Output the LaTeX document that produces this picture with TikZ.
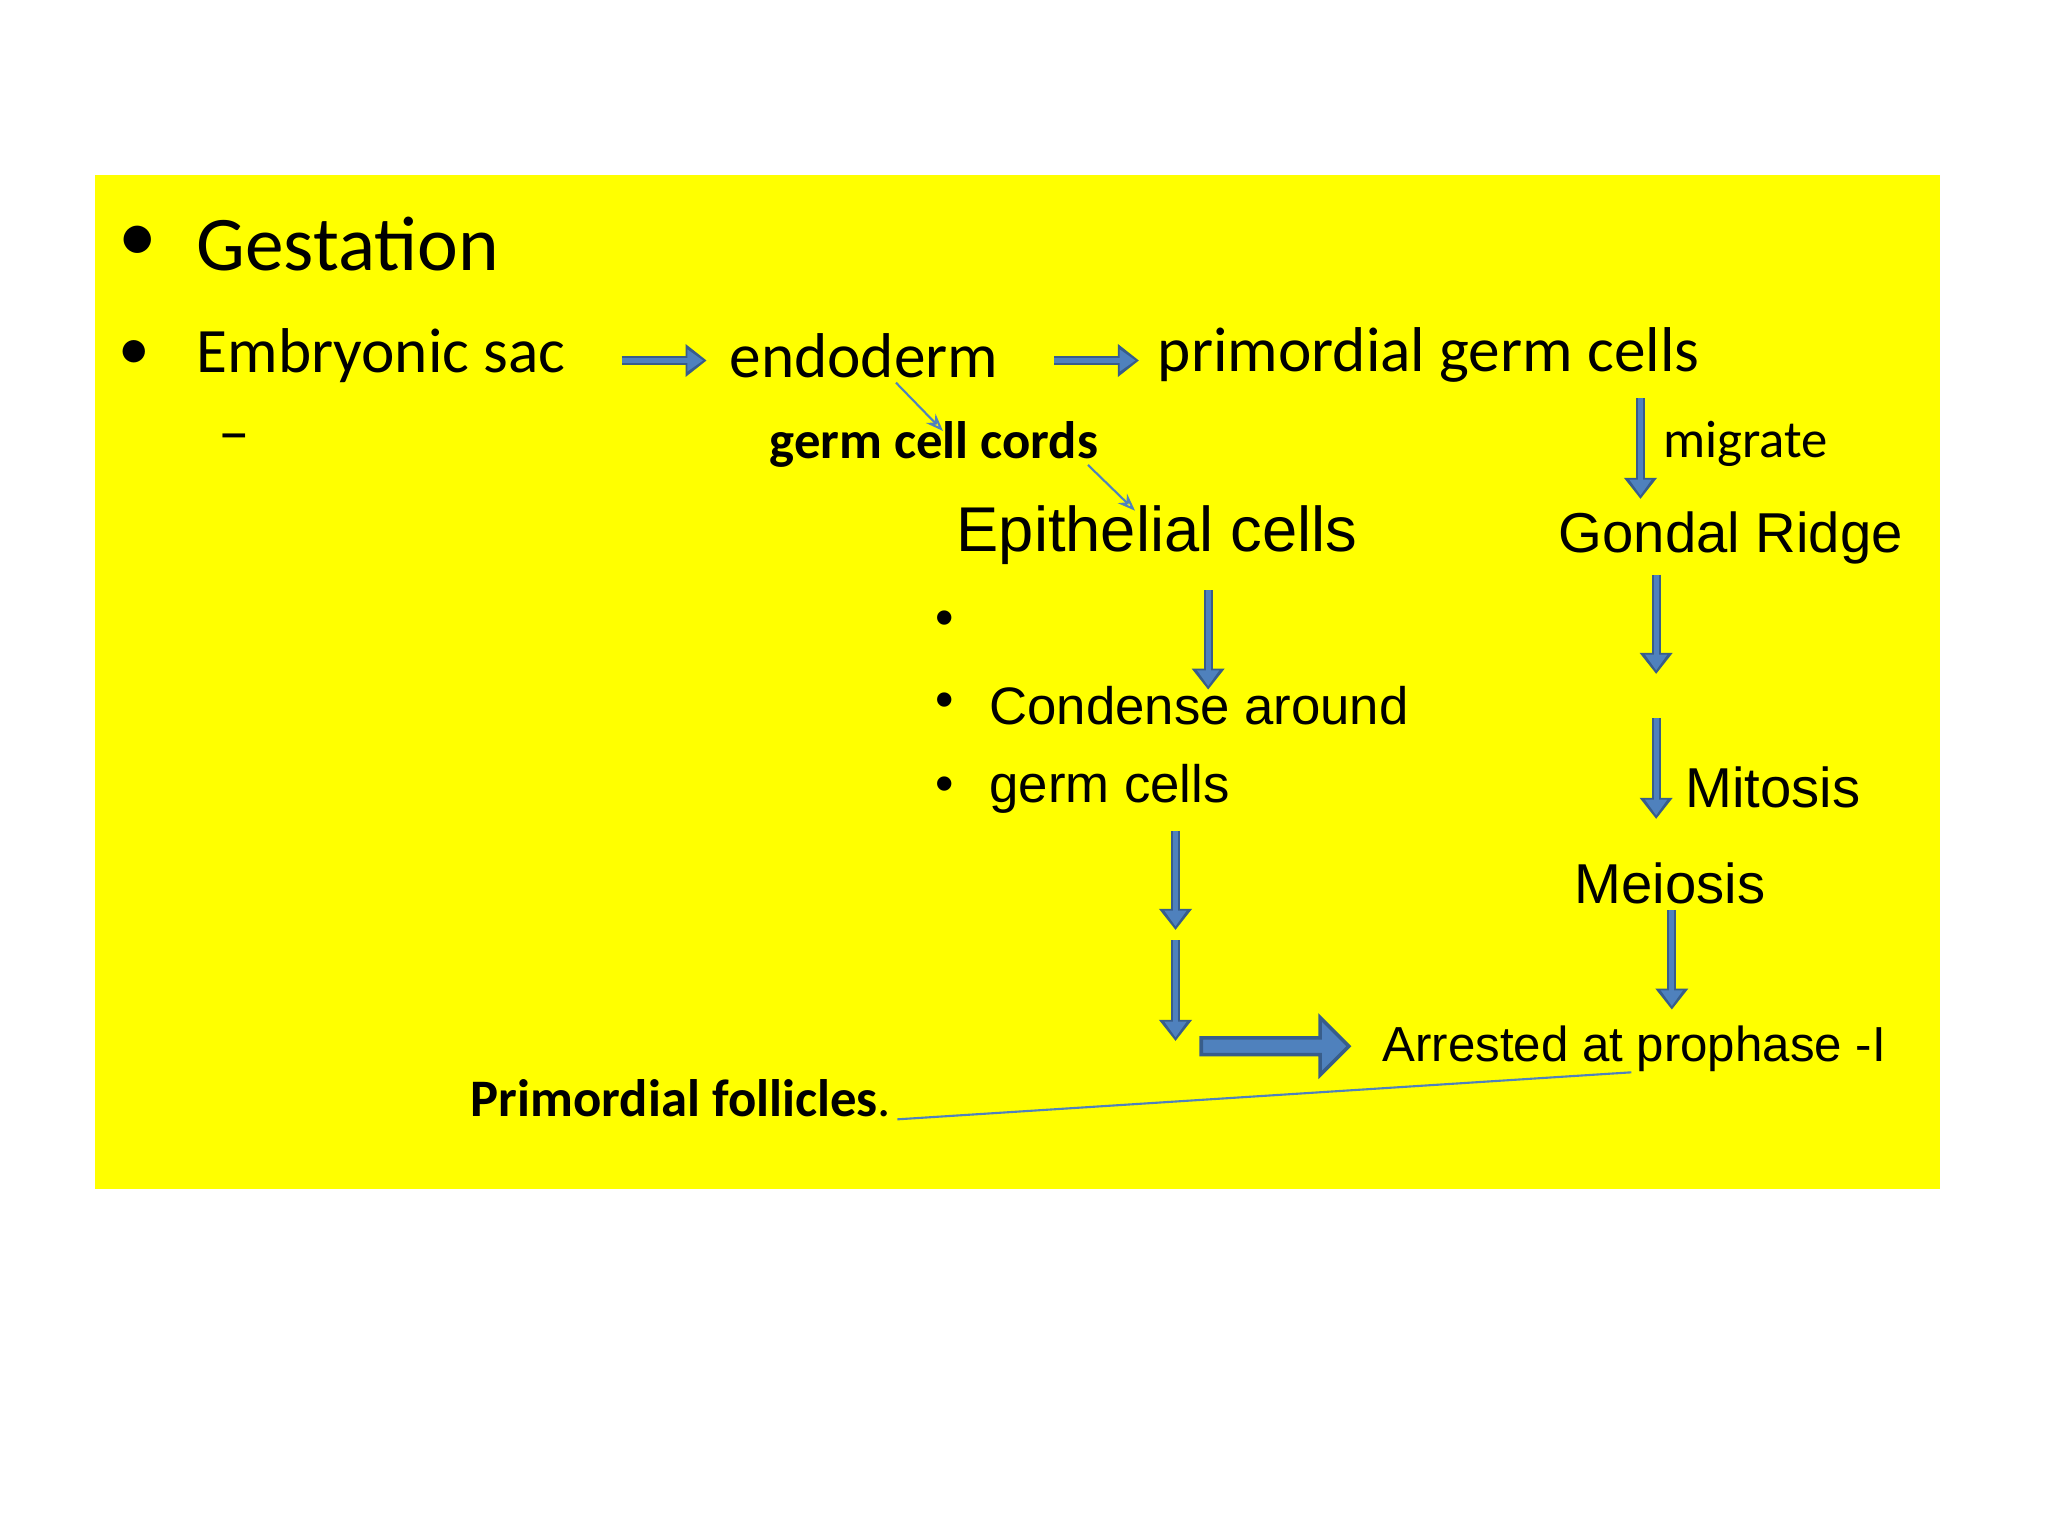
\documentclass[tikz,border=0pt]{standalone}
\usepackage{fontspec}
\setmainfont{Carlito}
\newfontfamily\arial{Liberation Sans}
\usetikzlibrary{arrows.meta,shapes.arrows}
\definecolor{ylw}{RGB}{255,255,0}
\definecolor{bfill}{RGB}{79,129,189}
\definecolor{bline}{RGB}{56,93,138}
\begin{document}
\begin{tikzpicture}[x=0.01306cm,y=-0.01306cm,
  cal/.style={anchor=west,inner sep=0pt,font=\fontsize{18}{20}\selectfont},
  ar/.style={anchor=west,inner sep=0pt,font=\arial\fontsize{15}{18}\selectfont},
  blk/.style={draw=bline,line width=2.6pt,-{Triangle[length=6pt,width=9pt]},shorten >=0pt},
  blkin/.style={draw=bfill,line width=1.4pt,-{Triangle[length=4.5pt,width=6pt]},shorten >=1pt},
  thin/.style={draw=bfill,line width=0.6pt,-{Stealth[length=5pt,open]}}]
\useasboundingbox (0,0) rectangle (1568,1176);
\fill[ylw] (73,134) rectangle (1485,910);
\node[cal,font=\fontsize{22}{24}\selectfont] (b1) at (90,187) {•};
\node[cal,font=\fontsize{22}{24}\selectfont] (gest) at (150,187) {Gestation};
\node[cal] (b2) at (90,272) {•};
\node[cal] (emb) at (150,272) {Embryonic sac};
\node[cal] (endo) at (558,272) {endoderm};
\node[cal] (pgc) at (886,272) {primordial germ cells};
\node[cal] (dash) at (167,340) {–};
\node[inner sep=0pt,font=\bfseries\fontsize{15}{18}\selectfont] (gcc) at (715,340) {germ cell cords};
\node[ar,font=\arial\fontsize{18}{20}\selectfont] (epi) at (732,410) {Epithelial cells};
\node[cal,font=\fontsize{15}{18}\selectfont] (mig) at (1273,340) {migrate};
\node[ar,font=\arial\fontsize{16}{18}\selectfont] (gr) at (1193,412) {Gondal Ridge};
\node[ar,font=\arial\fontsize{16}{18}\selectfont] (mit) at (1290,603) {Mitosis};
\node[ar,font=\arial\fontsize{16}{18}\selectfont] (mei) at (1205,676) {Meiosis};
\node[ar] (bu1) at (716,477) {•};
\node[ar] (bu2) at (716,540) {•};
\node[ar] (cond) at (757,540) {Condense around};
\node[ar] (bu3) at (716,604) {•};
\node[ar] (gc) at (757,604) {germ cells};
\node[ar,font=\arial\fontsize{14}{16}\selectfont] (arr) at (1058,803) {Arrested at prophase -I};
\node[cal,font=\fontsize{15}{18}\selectfont] (pf) at (360,841) {\textbf{Primordial follicles}.};
% coordinates
\foreach \n/\x/\y in {a1/476/276,a2/541/276,a3/807/276,a4/872/276,
  m1/1256/305,m2/1256/382,g1/1268/440,g2/1268/516,g3/1268/550,g4/1268/627,
  e1/1280/697,e2/1280/773,c1/925/452,c2/925/528,d1/900/636,d2/900/712,d3/900/720,d4/900/797,
  t1/686/293,t2/722/330,t3/833/356,t4/869/391,l1/687/857,l2/1249/821}
  \coordinate (\n) at (\x,\y);
\foreach \s/\e in {a1/a2,a3/a4,m1/m2,g1/g2,g3/g4,e1/e2,c1/c2,d1/d2,d3/d4}{
  \draw[blk] (\s) -- (\e);
  \draw[blkin] (\s) -- (\e);}
\draw[thin] (t1) -- (t2);
\draw[thin] (t3) -- (t4);
\draw[bfill,line width=0.6pt] (l1) -- (l2);
\node[single arrow,draw=bline,fill=bfill,line width=1pt,minimum width=44*0.01306cm,
  single arrow head extend=13*0.01306cm,minimum height=113*0.01306cm,inner sep=4*0.01306cm,
  single arrow head indent=0pt] (big) at (973,801) {};
\end{tikzpicture}
\end{document}
